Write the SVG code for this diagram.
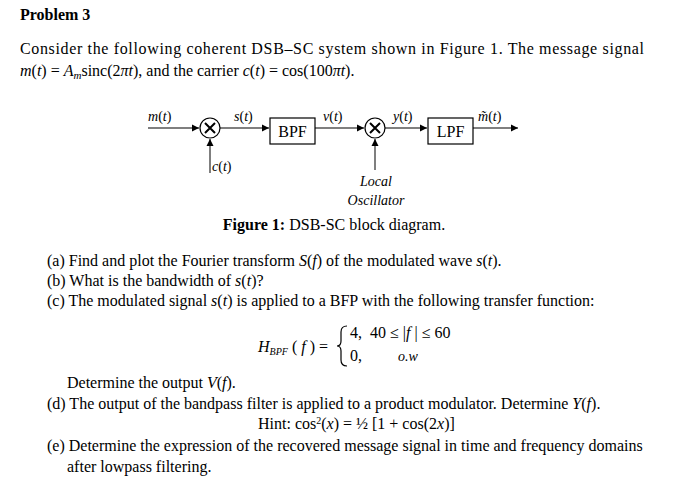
<svg xmlns="http://www.w3.org/2000/svg" width="684" height="493" viewBox="0 0 684 493">
<style>
text{font-family:"Liberation Serif",serif;font-size:16px;fill:#000}
.i{font-style:italic}
.s{font-size:14px}
.ln{stroke:#000;stroke-width:1.2;fill:none}
.gl{stroke:#555;stroke-width:1.5;fill:none}
.box{stroke:#000;stroke-width:1.2;fill:#fff}
.x{stroke:#000;stroke-width:2}
</style>
<defs><marker id="a" markerWidth="8" markerHeight="8" refX="7" refY="4" orient="auto" markerUnits="userSpaceOnUse"><path d="M0,0.5 L7,4 L0,7.5z" fill="#000"/></marker></defs>
<rect width="684" height="493" fill="#fff"/>
<text x="20" y="20" font-weight="bold" font-size="15">Problem 3</text>
<text x="20" y="54" textLength="624" lengthAdjust="spacing">Consider the following coherent DSB–SC system shown in Figure 1. The message signal</text>
<text x="20" y="76"><tspan class="i">m</tspan>(<tspan class="i">t</tspan>) = <tspan class="i">A</tspan><tspan class="i" font-size="11" dy="3">m</tspan><tspan dy="-3">sinc(2</tspan><tspan class="i">πt</tspan>), and the carrier <tspan class="i">c</tspan>(<tspan class="i">t</tspan>) = cos(100<tspan class="i">πt</tspan>).</text>
<g id="connectors">
<line class="ln" x1="148" y1="128" x2="199" y2="128" marker-end="url(#a)"/>
<line class="ln" x1="220" y1="128" x2="269" y2="128" marker-end="url(#a)"/>
<line class="ln" x1="315" y1="128" x2="364" y2="128" marker-end="url(#a)"/>
<line class="ln" x1="385" y1="128" x2="427" y2="128" marker-end="url(#a)"/>
<line class="ln" x1="473" y1="128" x2="518" y2="128" marker-end="url(#a)"/>
<line class="gl" x1="210" y1="173" x2="210" y2="139" marker-end="url(#a)"/>
<line class="gl" x1="375" y1="170" x2="375" y2="139" marker-end="url(#a)"/>
</g>
<g id="mult1"><circle cx="210" cy="128" r="10" class="box"/><path class="x" d="M205,123 L215,133 M215,123 L205,133"/></g>
<g id="bpf"><rect x="270" y="118" width="45" height="26" class="box"/><text x="292.5" y="137" text-anchor="middle">BPF</text></g>
<g id="mult2"><circle cx="375" cy="128" r="10" class="box"/><path class="x" d="M370,123 L380,133 M380,123 L370,133"/></g>
<g id="lpf"><rect x="428" y="118" width="45" height="26" class="box"/><text x="450.5" y="137" text-anchor="middle">LPF</text></g>
<g id="labels">
<text x="148" y="121" class="s"><tspan class="i">m</tspan>(<tspan class="i">t</tspan>)</text>
<text x="234" y="121" class="s"><tspan class="i">s</tspan>(<tspan class="i">t</tspan>)</text>
<text x="323" y="121" class="s"><tspan class="i">v</tspan>(<tspan class="i">t</tspan>)</text>
<text x="393" y="121" class="s"><tspan class="i">y</tspan>(<tspan class="i">t</tspan>)</text>
<text x="478" y="121" class="s"><tspan class="i">m̃</tspan>(<tspan class="i">t</tspan>)</text>
<text x="212" y="171" class="s"><tspan class="i">c</tspan>(<tspan class="i">t</tspan>)</text>
<text x="376" y="186" class="s i" text-anchor="middle">Local</text>
<text x="376" y="205" class="s i" text-anchor="middle">Oscillator</text>
</g>
<text x="334" y="230" text-anchor="middle"><tspan font-weight="bold">Figure 1:</tspan> DSB-SC block diagram.</text>
<text x="47" y="266">(a) Find and plot the Fourier transform <tspan class="i">S</tspan>(<tspan class="i">f</tspan>) of the modulated wave <tspan class="i">s</tspan>(<tspan class="i">t</tspan>).</text>
<text x="47" y="286">(b) What is the bandwidth of <tspan class="i">s</tspan>(<tspan class="i">t</tspan>)?</text>
<text x="47" y="306">(c) The modulated signal <tspan class="i">s</tspan>(<tspan class="i">t</tspan>) is applied to a BFP with the following transfer function:</text>
<text x="258" y="352" class="i" font-size="16">H<tspan font-size="10" dy="3">BPF</tspan><tspan dy="-3" font-style="normal"> (</tspan> f <tspan font-style="normal">) =</tspan></text>
<path d="M347,326 Q341,326 341,332 L341,341 Q341,346 337,346 Q341,346 341,351 L341,360 Q341,366 347,366" fill="none" stroke="#000" stroke-width="1.2"/>
<text x="350" y="338">4,</text>
<text x="370" y="338">40 ≤ |<tspan class="i">f</tspan> | ≤ 60</text>
<text x="350" y="361">0,</text>
<text x="398" y="361" class="i s">o.w</text>
<text x="67" y="388">Determine the output <tspan class="i">V</tspan>(<tspan class="i">f</tspan>).</text>
<text x="47" y="409">(d) The output of the bandpass filter is applied to a product modulator. Determine <tspan class="i">Y</tspan>(<tspan class="i">f</tspan>).</text>
<text x="258" y="429">Hint: cos<tspan font-size="10" dy="-5">2</tspan><tspan dy="5">(</tspan><tspan class="i">x</tspan>) = ½ [1 + cos(2<tspan class="i">x</tspan>)]</text>
<text x="47" y="451">(e) Determine the expression of the recovered message signal in time and frequency domains</text>
<text x="67" y="472">after lowpass filtering.</text>
</svg>
